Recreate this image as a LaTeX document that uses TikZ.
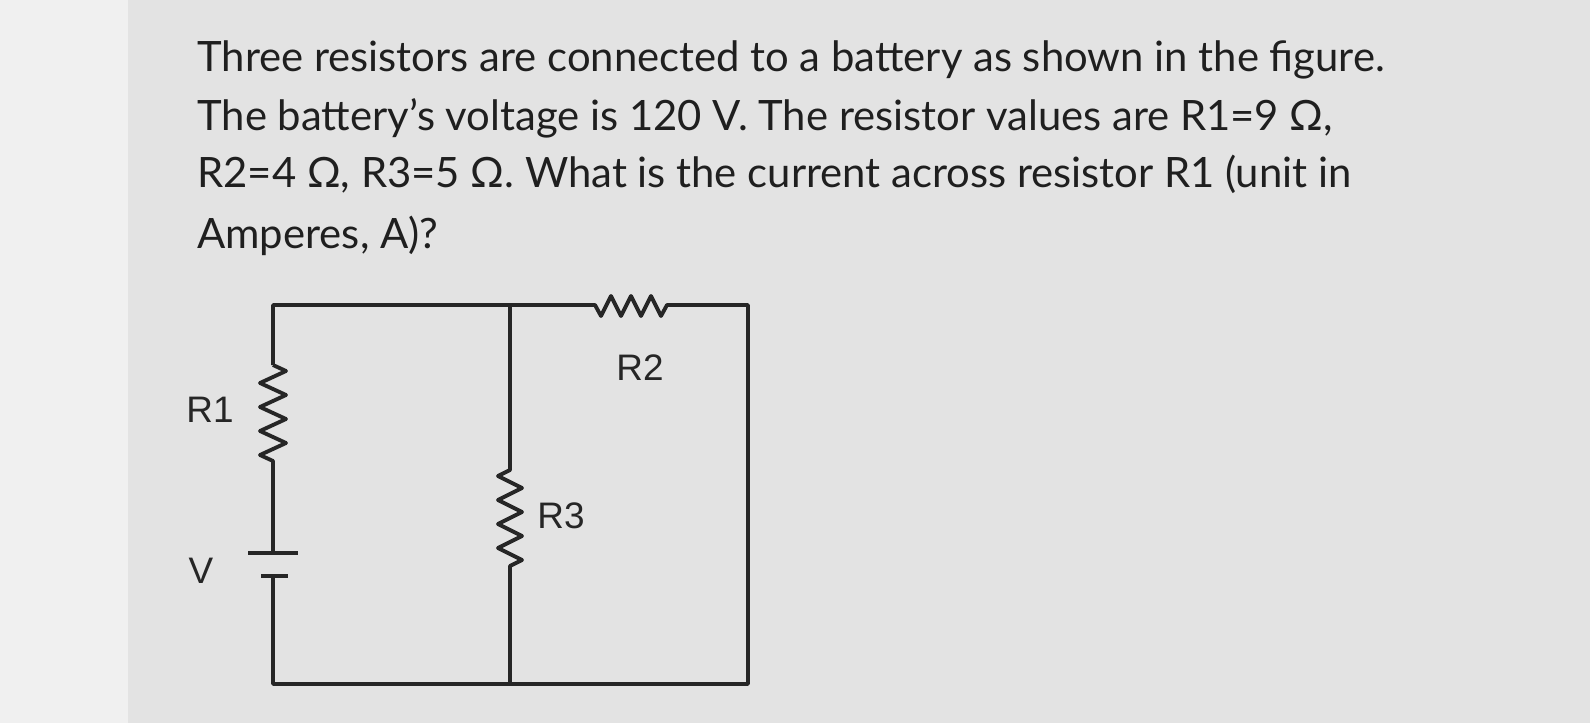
\documentclass[tikz,border=0pt]{standalone}
\usepackage{fontspec}
\setmainfont{Lato}
\newfontfamily\lab{Liberation Sans}
\begin{document}
\begin{tikzpicture}[x=0.02cm,y=-0.02cm,
  wire/.style={line width=2.2pt,black!85,line join=round},
  qtext/.style={anchor=base west,font=\fontsize{23.8}{28}\selectfont,text=black!88,inner sep=0},
  lbl/.style={font=\lab\fontsize{21}{24}\selectfont,text=black!85}]
\fill[gray!22] (0,0) rectangle (1590,723);
\fill[gray!12] (0,0) rectangle (128,723);
\node[qtext] (l1) at (197,72) {Three resistors are connected to a battery as shown in the figure.};
\node[qtext] (l2) at (197,131) {The battery's voltage is 120 V. The resistor values are R1=9 Ω,};
\node[qtext] (l3) at (197,188) {R2=4 Ω, R3=5 Ω. What is the current across resistor R1 (unit in};
\node[qtext] (l4) at (197,248) {Amperes, A)?};
% wires
\coordinate (tl) at (273,305); \coordinate (tm) at (510,305);
\coordinate (tr) at (748,305); \coordinate (br) at (748,684);
\coordinate (bm) at (510,684); \coordinate (bl) at (273,684);
\draw[wire] (273,365) -- (tl) -- (tm) -- (595,305)
  -- (601,316) -- (611,296) -- (621,316) -- (631,296) -- (641,316) -- (651,296) -- (661,316) -- (667,305)
  -- (tr) -- (br) -- (bm) -- (bl) -- (273,575);
\draw[wire] (273,365) -- (286,371) -- (260,383) -- (286,395) -- (260,407) -- (286,419) -- (260,431) -- (286,443) -- (260,455) -- (273,461) -- (273,553);
\draw[wire] (tm) -- (510,470) -- (498,476) -- (522,488) -- (498,500) -- (522,512) -- (498,524) -- (522,536) -- (498,548) -- (522,560) -- (510,566) -- (bm);
\draw[wire] (248,553) -- (298,553);
\draw[wire] (261,576) -- (288,576);
\node[lbl] (r1) at (210,410) {R1};
\node[lbl] (v) at (201,571) {V};
\node[lbl] (r3) at (561,516) {R3};
\node[lbl] (r2) at (640,368) {R2};
\end{tikzpicture}
\end{document}
